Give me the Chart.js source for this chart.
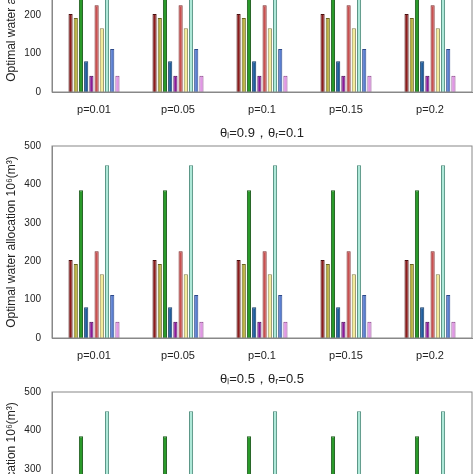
<!DOCTYPE html>
<html>
<head>
<meta charset="utf-8">
<script src="https://cdn.jsdelivr.net/npm/chart.js@4"></script>
<style>
  body { margin: 0; background: #fff; width: 474px; height: 474px; overflow: hidden; position: relative; }
  .panel { position: absolute; left: 0; width: 474px; height: 265px; }
</style>
</head>
<body>
<div class="panel" style="top:-120px"><canvas id="c0"></canvas></div>
<div class="panel" style="top:126px"><canvas id="c1"></canvas></div>
<div class="panel" style="top:372px"><canvas id="c2"></canvas></div>
<script>
// 横轴类别
const categories = ['p=0.01', 'p=0.05', 'p=0.1', 'p=0.15', 'p=0.2'];
// 各面板标题
const panelTitles = ['θₗ=0.9，θᵣ=0.1', 'θₗ=0.5，θᵣ=0.5', 'θₗ=0.1，θᵣ=0.9'];
// 每组10个用水户的分配量（各p值相同）
const allocValues = [203, 193, 385, 80, 42, 226, 166, 450, 112, 42];
const fillColors = ['#8b1c1c', '#b8b040', '#2a9a2a', '#1f5c9c', '#8a1a9a', '#c85050', '#f2ea98', '#aee8d8', '#5a7ed0', '#e296e6'];
const edgeColors = ['#4a1010', '#6a6420', '#1c5a1c', '#123a66', '#4a0e55', '#7a2828', '#8a8450', '#4a8a7a', '#2e4a8a', '#8a4a8a'];
const yTicks = [0, 100, 200, 300, 400, 500];

const boxPlugin = {
    id: 'box',
    afterDraw(chart) {
        const a = chart.chartArea, ctx = chart.ctx;
        ctx.save();
        ctx.strokeStyle = '#888';
        ctx.lineWidth = 1;
        ctx.strokeRect(a.left, a.top, a.right - a.left, a.bottom - a.top);
        ctx.restore();
    }
};

function makePanel(id, title) {
    const datasets = allocValues.map((v, i) => ({
        data: categories.map(() => v),
        backgroundColor: fillColors[i],
        borderColor: edgeColors[i],
        borderWidth: 1,
        categoryPercentage: 0.62,
        barPercentage: 0.8
    }));
    new Chart(document.getElementById(id), {
        type: 'bar',
        data: { labels: categories, datasets },
        plugins: [boxPlugin],
        options: {
            responsive: true,
            maintainAspectRatio: false,
            animation: false,
            layout: { padding: { top: 20, right: 2, left: 0, bottom: 0 } },
            plugins: { legend: { display: false }, tooltip: { enabled: false } },
            scales: {
                x: {
                    grid: { display: false },
                    border: { color: '#888' },
                    ticks: { color: '#222', font: { family: 'Liberation Sans', size: 11 } },
                    title: { display: true, text: title, color: '#222', font: { family: 'Liberation Sans', size: 13 } },
                    afterFit(s) { s.height = 53; }
                },
                y: {
                    min: 0, max: 500,
                    afterBuildTicks(s) { s.ticks = yTicks.map(v => ({ value: v })); },
                    grid: { display: false, drawTicks: true },
                    border: { color: '#888' },
                    ticks: { color: '#222', font: { family: 'Liberation Sans', size: 10 } },
                    title: { display: true, text: 'Optimal water allocation 10⁶(m³)', color: '#222', font: { family: 'Liberation Sans', size: 12 } },
                    afterFit(s) { s.width = 52; }
                }
            }
        }
    });
}

panelTitles.forEach((t, i) => makePanel('c' + i, t));
</script>
</body>
</html>
